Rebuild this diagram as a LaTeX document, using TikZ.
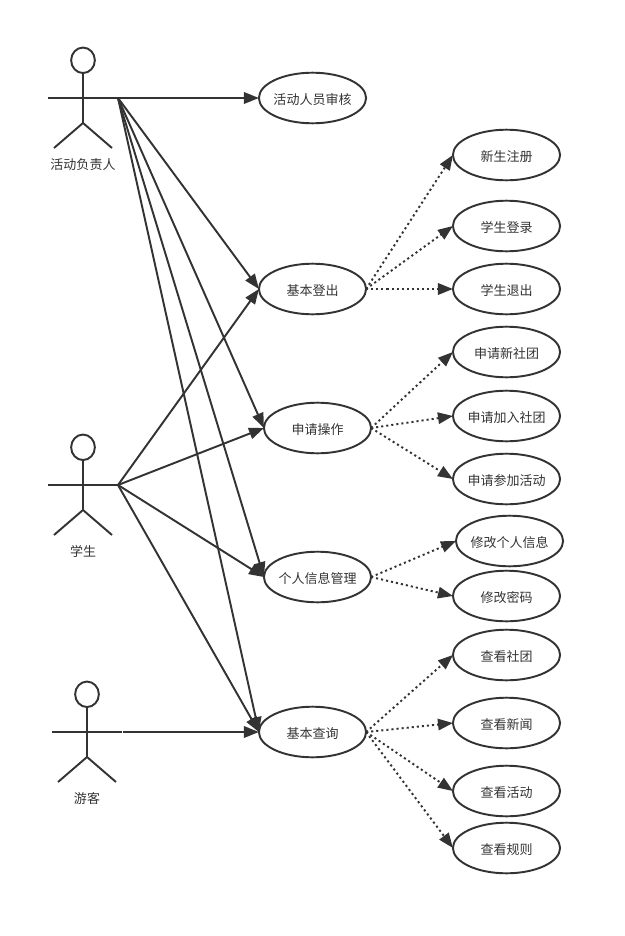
\documentclass[tikz,border=0pt]{standalone}
\usepackage{fontspec}
\setmainfont{Noto Sans CJK SC}
\usetikzlibrary{arrows.meta,shapes.geometric}
\definecolor{ink}{HTML}{333333}
\tikzset{
  usecase/.style={draw=ink,line width=1.1pt,ellipse,minimum width=61pt,minimum height=28.8pt,inner xsep=-4pt,inner ysep=0pt,outer sep=0pt,text=ink,text height=7pt,text depth=0pt,font=\fontsize{7.4pt}{9pt}\selectfont},
  head/.style={draw=ink,line width=1.1pt,ellipse,minimum width=13.5pt,minimum height=14.5pt,inner sep=0pt,outer sep=0pt},
  figure/.style={draw=ink,line width=1.1pt},
  who/.style={text=ink,inner sep=0pt,text height=7pt,text depth=0pt,font=\fontsize{7.4pt}{9pt}\selectfont},
  solidarrow/.style={draw=ink,line width=1.1pt,-{Triangle[length=8.5pt,width=6.5pt]}},
  dotarrow/.style={draw=ink,line width=1.1pt,dash pattern=on 1.2pt off 1.7pt,-{Triangle[length=8.5pt,width=6.5pt]}}
}
\begin{document}
\begin{tikzpicture}[x=0.02cm,y=-0.02cm]
\useasboundingbox (0,0) rectangle (625,936);
% actors
\node[head](h1) at(83,60.3){};
\node[who](w1) at(83,163){活动负责人};
\coordinate(l1) at(48,98);
\coordinate(r1) at(118,98);
\coordinate(c1) at(83,123);
\coordinate(a1) at(54,148);
\coordinate(b1) at(112,148);
\draw[figure](h1)--(c1);
\draw[figure](l1)--(r1);
\draw[figure](a1)--(c1)--(b1);
\node[head](h2) at(83,447.3){};
\node[who](w2) at(83,550){学生};
\coordinate(l2) at(48,485);
\coordinate(r2) at(118,485);
\coordinate(c2) at(83,510);
\coordinate(a2) at(54,535);
\coordinate(b2) at(112,535);
\draw[figure](h2)--(c2);
\draw[figure](l2)--(r2);
\draw[figure](a2)--(c2)--(b2);
\node[head](h3) at(87,694.3){};
\node[who](w3) at(87,797){游客};
\coordinate(l3) at(52,732);
\coordinate(r3) at(122,732);
\coordinate(c3) at(87,757);
\coordinate(a3) at(58,782);
\coordinate(b3) at(116,782);
\draw[figure](h3)--(c3);
\draw[figure](l3)--(r3);
\draw[figure](a3)--(c3)--(b3);
% middle column
\node[usecase](m1) at(312.5,98){活动人员审核};
\node[usecase](m2) at(312.5,289){基本登出};
\node[usecase](m3) at(317.5,428){申请操作};
\node[usecase](m4) at(317.5,577){个人信息管理};
\node[usecase](m5) at(312.5,732){基本查询};
% right column
\node[usecase](n1) at(506.5,155){新生注册};
\node[usecase](n2) at(506.5,226){学生登录};
\node[usecase](n3) at(506.5,289){学生退出};
\node[usecase](n4) at(506.5,352){申请新社团};
\node[usecase](n5) at(506.5,416){申请加入社团};
\node[usecase](n6) at(506.5,479){申请参加活动};
\node[usecase](n7) at(509.5,541){修改个人信息};
\node[usecase](n8) at(506.5,596){修改密码};
\node[usecase](n9) at(506.5,655){查看社团};
\node[usecase](n10) at(506.5,723){查看新闻};
\node[usecase](n11) at(506.5,791){查看活动};
\node[usecase](n12) at(506.5,848){查看规则};
% actor to use case
\draw[solidarrow](r1)--(m1.west);
\draw[solidarrow](r1)--(m2.west);
\draw[solidarrow](r1)--(m3.west);
\draw[solidarrow](r1)--(m4.west);
\draw[solidarrow](r1)--(m5.west);
\draw[solidarrow](r2)--(m2.west);
\draw[solidarrow](r2)--(m3.west);
\draw[solidarrow](r2)--(m4.west);
\draw[solidarrow](r2)--(m5.west);
\draw[solidarrow,shorten <=0.6pt](r3)--(m5.west);
% use case to use case
\draw[dotarrow](m2.east)--(n1.west);
\draw[dotarrow](m2.east)--(n2.west);
\draw[dotarrow](m2.east)--(n3.west);
\draw[dotarrow](m3.east)--(n4.west);
\draw[dotarrow](m3.east)--(n5.west);
\draw[dotarrow](m3.east)--(n6.west);
\draw[dotarrow](m4.east)--(n7.west);
\draw[dotarrow](m4.east)--(n8.west);
\draw[dotarrow](m5.east)--(n9.west);
\draw[dotarrow](m5.east)--(n10.west);
\draw[dotarrow](m5.east)--(n11.west);
\draw[dotarrow](m5.east)--(n12.west);
\end{tikzpicture}
\end{document}
